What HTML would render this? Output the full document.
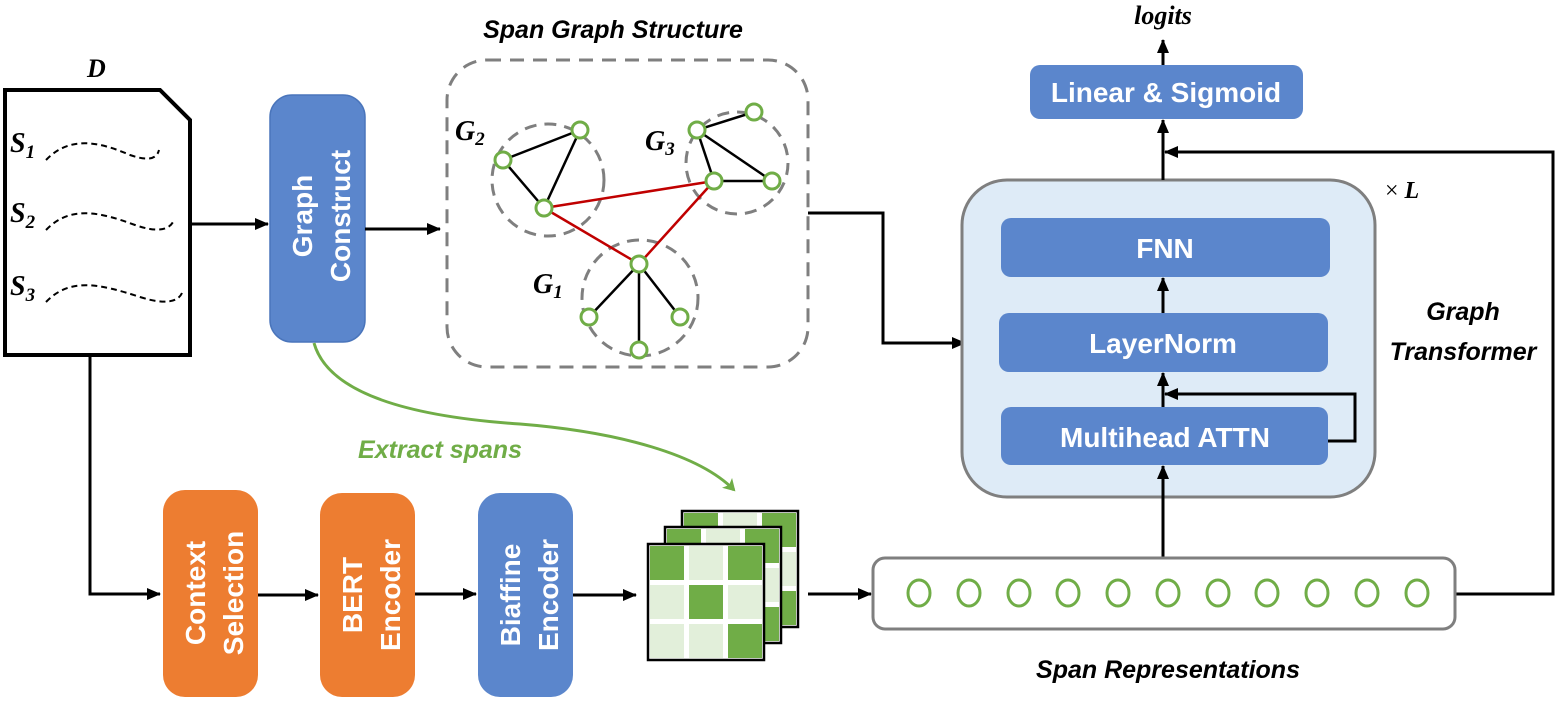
<!DOCTYPE html>
<html><head><meta charset="utf-8"><style>
html,body{margin:0;padding:0;background:#fff;}
svg{display:block;}
.w{fill:#fff;font-family:"Liberation Sans",sans-serif;font-size:28px;font-weight:bold;}
.it{font-family:"Liberation Sans",sans-serif;font-style:italic;font-weight:bold;}
.sr{font-family:"Liberation Serif",serif;font-style:italic;font-weight:bold;}
</style></head><body>
<svg width="1555" height="703" viewBox="0 0 1555 703" xmlns="http://www.w3.org/2000/svg">
<defs>
<marker id="a" markerWidth="14" markerHeight="12" refX="13" refY="6" orient="auto" markerUnits="userSpaceOnUse" viewBox="0 0 14 12"><path d="M0,0 L14,6 L0,12 z" fill="#000"/></marker>
<marker id="g" markerWidth="14" markerHeight="14" refX="10" refY="7" orient="auto" markerUnits="userSpaceOnUse" viewBox="0 0 14 14"><path d="M0,0 L12,7 L0,14 L3,7 z" fill="#70ad47"/></marker>
</defs>

<!-- Document D -->
<text x="87" y="77" class="sr" font-size="26">D</text>
<path d="M5,90 L160,90 L190,120 L190,355 L5,355 Z" fill="#fff" stroke="#000" stroke-width="4"/>
<text x="10" y="152" class="sr" font-size="28">S<tspan font-size="19" dy="6">1</tspan></text>
<text x="10" y="222" class="sr" font-size="28">S<tspan font-size="19" dy="6">2</tspan></text>
<text x="10" y="295" class="sr" font-size="28">S<tspan font-size="19" dy="6">3</tspan></text>
<g fill="none" stroke="#000" stroke-width="2" stroke-dasharray="6,4">
<path d="M46,160 C70,135 100,142 130,155 C150,162 157,158 159,150"/>
<path d="M46,230 C70,205 100,212 135,225 C158,233 170,230 174,220"/>
<path d="M46,302 C70,277 100,284 140,297 C165,305 178,302 182,293"/>
</g>

<!-- Graph construct -->
<line x1="190" y1="224" x2="268" y2="224" stroke="#000" stroke-width="3" marker-end="url(#a)"/>
<rect x="270" y="95" width="95" height="247" rx="22" fill="#5b86cc" stroke="#4a75bb" stroke-width="1.5"/>
<text class="w" transform="translate(317,216) rotate(-90)" text-anchor="middle"><tspan x="0" y="-5">Graph</tspan><tspan x="0" y="33">Construct</tspan></text>
<line x1="365" y1="229" x2="440" y2="229" stroke="#000" stroke-width="3" marker-end="url(#a)"/>

<!-- Span graph -->
<text x="613" y="38" class="it" font-size="25" text-anchor="middle">Span Graph Structure</text>
<rect x="447" y="60" width="361" height="307" rx="40" fill="none" stroke="#7f7f7f" stroke-width="3" stroke-dasharray="14,9"/>
<g fill="none" stroke="#7f7f7f" stroke-width="3" stroke-dasharray="12,8">
<circle cx="548" cy="180" r="56"/>
<circle cx="737" cy="163" r="51"/>
<circle cx="640" cy="298" r="58"/>
</g>
<g stroke="#000" stroke-width="2.5">
<line x1="503" y1="160" x2="580" y2="130"/><line x1="503" y1="160" x2="544" y2="208"/><line x1="544" y1="208" x2="580" y2="130"/>
<line x1="697" y1="130" x2="754" y2="112"/><line x1="697" y1="130" x2="714" y2="181"/><line x1="697" y1="130" x2="772" y2="181"/><line x1="714" y1="181" x2="772" y2="181"/>
<line x1="639" y1="264" x2="589" y2="317"/><line x1="639" y1="264" x2="680" y2="317"/><line x1="639" y1="264" x2="639" y2="350"/>
</g>
<g stroke="#c00000" stroke-width="2.5">
<line x1="544" y1="208" x2="714" y2="181"/><line x1="544" y1="208" x2="639" y2="264"/><line x1="639" y1="264" x2="714" y2="181"/>
</g>
<g fill="#fff" stroke="#70ad47" stroke-width="3">
<circle cx="580" cy="130" r="8"/><circle cx="503" cy="160" r="8"/><circle cx="544" cy="208" r="8"/>
<circle cx="697" cy="130" r="8"/><circle cx="754" cy="112" r="8"/><circle cx="714" cy="181" r="8"/><circle cx="772" cy="181" r="8"/>
<circle cx="639" cy="264" r="8"/><circle cx="589" cy="317" r="8"/><circle cx="680" cy="317" r="8"/><circle cx="639" cy="350" r="8"/>
</g>
<text x="455" y="140" class="sr" font-size="28">G<tspan font-size="19" dy="5">2</tspan></text>
<text x="645" y="150" class="sr" font-size="28">G<tspan font-size="19" dy="5">3</tspan></text>
<text x="533" y="293" class="sr" font-size="28">G<tspan font-size="19" dy="5">1</tspan></text>

<!-- arrow to transformer -->
<polyline points="808,213 883,213 883,343 965,343" fill="none" stroke="#000" stroke-width="3" marker-end="url(#a)"/>

<!-- Transformer -->
<rect x="962" y="180" width="413" height="317" rx="45" fill="#deebf7" stroke="#7f7f7f" stroke-width="3"/>
<rect x="1001" y="218" width="329" height="59" rx="10" fill="#5b86cc"/>
<text x="1165" y="258" class="w" text-anchor="middle">FNN</text>
<rect x="999" y="313" width="329" height="59" rx="10" fill="#5b86cc"/>
<text x="1163" y="353" class="w" text-anchor="middle">LayerNorm</text>
<rect x="1001" y="407" width="327" height="58" rx="10" fill="#5b86cc"/>
<text x="1165" y="447" class="w" text-anchor="middle">Multihead ATTN</text>
<g fill="none" stroke="#000" stroke-width="3">
<line x1="1163" y1="407" x2="1163" y2="373" marker-end="url(#a)"/>
<line x1="1163" y1="313" x2="1163" y2="278" marker-end="url(#a)"/>
<polyline points="1328,441 1355,441 1355,394 1165,394" marker-end="url(#a)"/>
<line x1="1163" y1="558" x2="1163" y2="466" marker-end="url(#a)"/>
<line x1="1163" y1="180" x2="1163" y2="120" marker-end="url(#a)"/>
<line x1="1163" y1="65" x2="1163" y2="40" marker-end="url(#a)"/>
<polyline points="1455,594 1553,594 1553,152 1165,152" marker-end="url(#a)"/>
</g>
<text x="1385" y="198" class="sr" font-size="24"><tspan font-style="normal" font-weight="normal">× </tspan>L</text>
<text x="1463" y="320" class="it" font-size="25" text-anchor="middle">Graph</text>
<text x="1463" y="360" class="it" font-size="25" text-anchor="middle">Transformer</text>
<rect x="1030" y="65" width="273" height="54" rx="10" fill="#5b86cc"/>
<text x="1166" y="102" class="w" text-anchor="middle">Linear &amp; Sigmoid</text>
<text x="1163" y="24" class="sr" font-size="26" text-anchor="middle">logits</text>

<!-- Bottom pipeline -->
<polyline points="90,355 90,594 160,594" fill="none" stroke="#000" stroke-width="3" marker-end="url(#a)"/>
<rect x="163" y="490" width="95" height="207" rx="22" fill="#ed7d31"/>
<text class="w" transform="translate(210,593) rotate(-90)" text-anchor="middle"><tspan x="0" y="-5">Context</tspan><tspan x="0" y="33">Selection</tspan></text>
<rect x="320" y="493" width="95" height="204" rx="22" fill="#ed7d31"/>
<text class="w" transform="translate(367,595) rotate(-90)" text-anchor="middle"><tspan x="0" y="-5">BERT</tspan><tspan x="0" y="33">Encoder</tspan></text>
<rect x="478" y="493" width="95" height="204" rx="22" fill="#5b86cc"/>
<text class="w" transform="translate(525,595) rotate(-90)" text-anchor="middle"><tspan x="0" y="-5">Biaffine</tspan><tspan x="0" y="33">Encoder</tspan></text>
<g stroke="#000" stroke-width="3">
<line x1="258" y1="595" x2="318" y2="595" marker-end="url(#a)"/>
<line x1="415" y1="594" x2="476" y2="594" marker-end="url(#a)"/>
<line x1="573" y1="595" x2="636" y2="595" marker-end="url(#a)"/>
<line x1="808" y1="594" x2="871" y2="594" marker-end="url(#a)"/>
</g>

<!-- green curve -->
<path d="M314,343 C330,400 430,418 520,424 C620,432 700,455 734,490" fill="none" stroke="#70ad47" stroke-width="3" marker-end="url(#g)"/>
<text x="440" y="458" class="it" font-size="25" fill="#70ad47" text-anchor="middle">Extract spans</text>

<!-- grids -->
<g id="grid">
<rect x="682" y="511" width="116" height="116" fill="#fff" stroke="#000" stroke-width="2.5"/>
<rect x="684" y="513" width="34" height="34" fill="#70ad47"/><rect x="723" y="513" width="34" height="34" fill="#e2efda"/><rect x="762" y="513" width="34" height="34" fill="#70ad47"/>
<rect x="684" y="552" width="34" height="34" fill="#e2efda"/><rect x="723" y="552" width="34" height="34" fill="#70ad47"/><rect x="762" y="552" width="34" height="34" fill="#e2efda"/>
<rect x="684" y="591" width="34" height="34" fill="#e2efda"/><rect x="723" y="591" width="34" height="34" fill="#e2efda"/><rect x="762" y="591" width="34" height="34" fill="#70ad47"/>
</g>
<use href="#grid" x="-17" y="16"/>
<use href="#grid" x="-34" y="33"/>

<!-- span representations -->
<rect x="873" y="558" width="582" height="71" rx="12" fill="#fff" stroke="#7f7f7f" stroke-width="3"/>
<g fill="none" stroke="#70ad47" stroke-width="3">
<ellipse cx="919" cy="593" rx="11" ry="13"/><ellipse cx="969" cy="593" rx="11" ry="13"/><ellipse cx="1019" cy="593" rx="11" ry="13"/><ellipse cx="1068" cy="593" rx="11" ry="13"/><ellipse cx="1118" cy="593" rx="11" ry="13"/><ellipse cx="1168" cy="593" rx="11" ry="13"/><ellipse cx="1218" cy="593" rx="11" ry="13"/><ellipse cx="1267" cy="593" rx="11" ry="13"/><ellipse cx="1317" cy="593" rx="11" ry="13"/><ellipse cx="1367" cy="593" rx="11" ry="13"/><ellipse cx="1417" cy="593" rx="11" ry="13"/>
</g>
<text x="1168" y="678" class="it" font-size="25" text-anchor="middle">Span Representations</text>
</svg>
</body></html>
